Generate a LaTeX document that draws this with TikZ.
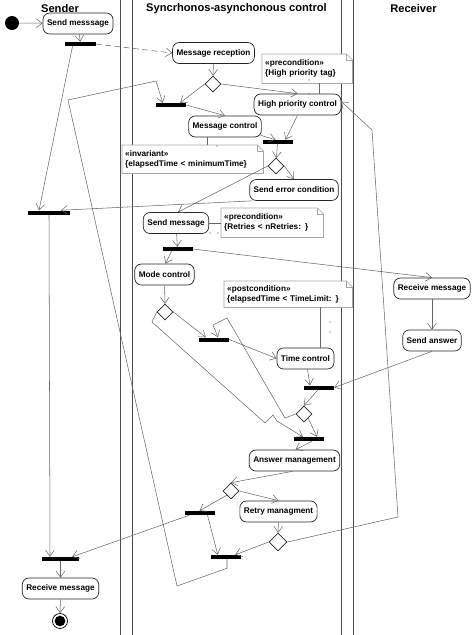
\documentclass[tikz,border=0pt]{standalone}
\usepackage{fontspec}
\setmainfont{Liberation Sans}
\usetikzlibrary{arrows.meta, positioning, shapes.geometric, calc, backgrounds}

\newcommand{\actfont}{\fontsize{7}{8.5}\selectfont\bfseries}
\newcommand{\headfont}{\fontsize{9.5}{11}\selectfont\bfseries}

\begin{document}
\begin{tikzpicture}[
  x=0.03cm, y=-0.03cm,
  action/.style={rectangle, rounded corners=0.2cm, draw=black!85, line width=0.6pt, fill=white,
                 minimum height=0.63cm, inner xsep=0.12cm, inner ysep=0pt, font=\actfont},
  syncbar/.style={rectangle, fill=black, minimum width=0.9cm, minimum height=0.12cm, inner sep=0pt},
  decision/.style={diamond, draw=black!85, line width=0.6pt, fill=white,
                   minimum width=0.48cm, minimum height=0.48cm, inner sep=0pt},
  note/.style={rectangle, fill=white, anchor=north west, align=left, inner sep=0.09cm, font=\actfont},
  notedge/.style={draw=gray!70, line width=0.5pt},
  flow/.style={-{Straight Barb[length=1.8mm, width=2.6mm]}, draw=black!60, line width=0.45pt},
  notelink/.style={draw=black!60, line width=0.45pt},
  lane/.style={draw=black!70, line width=0.6pt},
  lanehead/.style={font=\headfont, inner sep=1pt}
]
\useasboundingbox (0,0) rectangle (474,635);

% Swimlanes
\begin{scope}[on background layer]
  \foreach \lx in {120,132,341.5,353}
    \draw[lane] (\lx,0) -- (\lx,635);
\end{scope}

% Sender lane
\node[circle, fill=black, minimum size=0.42cm, inner sep=0pt] (init) at (12,23) {};
\node[action] (sendm) at (78,23.5) {Send messsage};
\node[syncbar] (forkA) at (80.5,44) {};
\node[syncbar, minimum width=1.26cm] (sjoinA) at (49,212.5) {};
\node[syncbar, minimum width=1.11cm] (sjoinB) at (60.5,559) {};
\node[action] (recvS) at (60.5,588.5) {Receive message};
\node[circle, draw=black, line width=0.6pt, minimum size=0.45cm, inner sep=0pt] (final) at (60,621) {};
\fill (final.center) circle[radius=0.16cm];

% Control lane
\node[action] (mrec) at (213.5,53) {Message reception};
\node[decision] (dA) at (213,84) {};
\node[syncbar] (joinB) at (171,105) {};
\node[action] (hpc) at (297.5,104.5) {High priority control};
\node[action] (mctl) at (225,126.5) {Message control};
\node[syncbar] (joinC) at (277.5,142) {};
\node[decision] (dB) at (276,166) {};
\node[action] (serr) at (294,190) {Send error condition};
\node[action] (sendmsg) at (176,223) {Send message};
\node[syncbar] (forkD) at (177.5,249) {};
\node[action] (modec) at (164.5,274.5) {Mode control};
\node[decision] (dC) at (165,312) {};
\node[syncbar] (joinE) at (214,339.5) {};
\node[action] (timec) at (305.5,358.5) {Time control};
\node[syncbar] (joinF) at (319,387.5) {};
\node[decision] (dD) at (304,414) {};
\node[syncbar] (joinG) at (309,439) {};
\node[action] (ansm) at (294.5,460.5) {Answer management};
\node[decision] (dE) at (231,491) {};
\node[action] (retry) at (278.5,511.5) {Retry managment};
\node[syncbar] (forkH) at (199.5,513) {};
\node[decision, minimum width=0.54cm, minimum height=0.54cm] (dF) at (278,542) {};
\node[syncbar] (joinI) at (226,557) {};

% Receiver lane
\node[action] (recvR) at (432,288.5) {Receive message};
\node[action] (sendans) at (432,340.5) {Send answer};

% Lane headers
\node[lanehead] (hSend) at (60,8.5) {Sender};
\node[lanehead] (hSync) at (236.5,9) {Syncrhonos-asynchonous control};
\node[lanehead] (hRecv) at (413.5,9) {Receiver};

% Notes
\node[note, text width=2.52cm, minimum height=0.87cm] (nHpt) at (262,54)
  {«precondition»\\\{High priority tag\}};
\node[note, text width=4.05cm, minimum height=0.84cm] (nInv) at (122,145)
  {«invariant»\\\{elapsedTime < minimumTime\}};
\node[note, text width=2.88cm, minimum height=0.87cm] (nRet) at (221,208)
  {«precondition»\\\{Retries < nRetries: \}};
\node[note, text width=3.66cm, minimum height=0.78cm] (nPost) at (224,281)
  {«postcondition»\\\{elapsedTime < TimeLimit: \}};
\foreach \n in {nHpt,nInv,nRet,nPost} {
  \draw[notedge] (\n.north west) -- ($(\n.north east)+(-6,0)$) -- ($(\n.north east)+(0,6)$)
    -- (\n.south east) -- (\n.south west) -- cycle;
  \draw[notedge] ($(\n.north east)+(-6,0)$) |- ($(\n.north east)+(0,6)$);
}
\coordinate (hpcA) at ($(hpc.north)+(21.5,0)$);
\coordinate (mctlA) at ($(mctl.south)+(-18,0)$);
\coordinate (timecA) at ($(timec.north)+(14.5,0)$);
\draw[notelink] (nHpt.south -| hpcA) -- (hpcA);
\draw[notelink] (mctlA) -- (nInv.north -| mctlA);
\draw[notelink] (sendmsg.east) -- (sendmsg.east -| nRet.west);
\draw[notelink] (nPost.south -| timecA) -- (timecA);
\foreach \p in {(309,80),(309,94),(217,146),(210,233),(218,233),(330,322),(330,332)}
  \fill[black!70] \p circle[radius=0.5pt];

% Flows
\draw[flow] (init) -- (sendm);
\draw[flow] (sendm) -- (forkA);
\draw[flow, dash pattern=on 5pt off 3pt] (forkA.east) -- (mrec.west);
\draw[flow] ($(forkA.south)+(-8,0)$) -- ($(sjoinA.north)+(-10,0)$);
\draw[flow] (mrec) -- (dA);
\draw[flow] (dA.west) -- ($(joinB.north east)+(-6,0)$);
\draw[flow] (dA.east) -- (hpc.north);
\draw[flow] (joinB.east) -- (mctl.north);
\draw[flow] ($(mctl.south east)+(-1,-2)$) -- ($(joinC.north)+(-2,0)$);
\draw[flow] (hpc.south) -- ($(joinC.north)+(8,0)$);
\draw[flow] (joinC) -- (dB);
\draw[flow] (dB.east) -- (serr.north);
\draw[flow] (dB.west) -- ($(sendmsg.north)+(2,0)$);
\draw[flow] ($(serr.south west)+(3,0)$) -- ($(sjoinA.north)+(12,0)$);
\draw[flow] (sendmsg) -- (forkD);
\draw[flow] ($(forkD.south)+(-6,0)$) -- ($(modec.north)+(1,0)$);
\draw[flow] (forkD.east) -- (recvR.north);
\draw[flow] (recvR) -- (sendans);
\draw[flow] (sendans.south) -- (joinF.east);
\draw[flow] (modec) -- (dC);
\draw[flow] (dC.east) -- ($(joinE.north west)+(7,0)$);
\draw[flow] (joinE.east) -- (timec.west);
\draw[flow] ($(timec.south)+(2,0)$) -- ($(joinF.north)+(-9,0)$);
\draw[flow] ($(joinF.south)+(-1,0)$) -- (dD.north);
\draw[flow] (dD.south east) -- ($(joinG.north)+(8,0)$);
\draw[flow] (dD.west) -- (285,418) -- (227,318) -- (213,325) -- ($(joinE.north)+(4,0)$);
\draw[flow] (dC.west) -- (152,322) -- (265,423) -- (273,415) -- (277,421) -- ($(joinG.north west)+(9,0)$);
\draw[flow] ($(joinG.south)+(3,0)$) -- ($(ansm.north)+(1,0)$);
\draw[flow] ($(ansm.south)+(-2,0)$) -- (dE.north);
\draw[flow] (dE.east) -- (retry.north);
\draw[flow] (dE.south west) -- (forkH.north);
\draw[flow] (retry) -- (dF);
\draw[flow] (dF.west) -- ($(joinI.north east)+(-6,0)$);
\draw[flow] ($(forkH.south)+(8,0)$) -- ($(joinI.north west)+(7,0)$);
\draw[flow] ($(forkH.south west)+(5,0)$) -- ($(sjoinB.north east)+(-7,0)$);
\draw[flow] (dF.east) -- (398,517) -- (372,130) -- ($(hpc.east)+(0,-3)$);
\draw[flow] ($(joinI.south)+(1,0)$) -- ++(0,9) -- (177,586) -- (68,100) -- (156,81)
  -- ($(joinB.north west)+(7,0)$);
\draw[flow] (sjoinA.south) -- ($(sjoinB.north)+(-10.5,0)$);
\draw[flow] (sjoinB) -- (recvS);
\draw[flow] (recvS) -- (final);

\end{tikzpicture}
\end{document}
